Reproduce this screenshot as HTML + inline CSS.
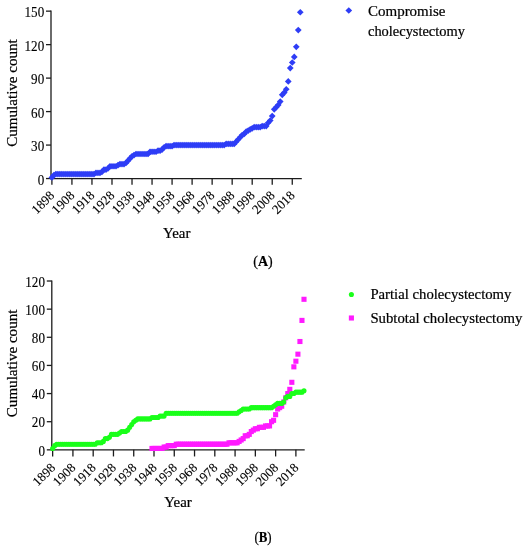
<!DOCTYPE html>
<html lang="en"><head><meta charset="utf-8"><title>Cumulative count</title>
<style>html,body{margin:0;padding:0;background:#fff}body{width:527px;height:550px;overflow:hidden}</style></head>
<body>
<svg width="527" height="550" viewBox="0 0 527 550" style="display:block" font-family='"Liberation Serif", "DejaVu Serif", serif' font-size="14" fill="#000">
<rect width="527" height="550" fill="#fff"/>
<g stroke="#1c1c1c" stroke-width="1.3" fill="none">
<path d="M51.0 10.55V179.15"/>
<path d="M50.40 178.55H301.8"/>
<path d="M46.0 178.55H51.0"/>
<path d="M46.0 145.07H51.0"/>
<path d="M46.0 111.59H51.0"/>
<path d="M46.0 78.11H51.0"/>
<path d="M46.0 44.63H51.0"/>
<path d="M46.0 11.15H51.0"/>
<path d="M51.90 178.55V184.75"/>
<path d="M71.93 178.55V184.75"/>
<path d="M91.96 178.55V184.75"/>
<path d="M111.99 178.55V184.75"/>
<path d="M132.02 178.55V184.75"/>
<path d="M152.05 178.55V184.75"/>
<path d="M172.08 178.55V184.75"/>
<path d="M192.11 178.55V184.75"/>
<path d="M212.14 178.55V184.75"/>
<path d="M232.17 178.55V184.75"/>
<path d="M252.20 178.55V184.75"/>
<path d="M272.23 178.55V184.75"/>
<path d="M292.26 178.55V184.75"/>
</g>
<g stroke="#000" stroke-width="0.12">
<text text-anchor="end" textLength="6.55" lengthAdjust="spacingAndGlyphs" x="44.2" y="184.50">0</text>
<text text-anchor="end" textLength="13.10" lengthAdjust="spacingAndGlyphs" x="44.2" y="151.02">30</text>
<text text-anchor="end" textLength="13.10" lengthAdjust="spacingAndGlyphs" x="44.2" y="117.54">60</text>
<text text-anchor="end" textLength="13.10" lengthAdjust="spacingAndGlyphs" x="44.2" y="84.06">90</text>
<text text-anchor="end" textLength="19.65" lengthAdjust="spacingAndGlyphs" x="44.2" y="50.58">120</text>
<text text-anchor="end" textLength="19.65" lengthAdjust="spacingAndGlyphs" x="44.2" y="17.10">150</text>
<text text-anchor="end" font-size="13" transform="translate(55.20 196.25) rotate(-45)">1898</text>
<text text-anchor="end" font-size="13" transform="translate(75.23 196.25) rotate(-45)">1908</text>
<text text-anchor="end" font-size="13" transform="translate(95.26 196.25) rotate(-45)">1918</text>
<text text-anchor="end" font-size="13" transform="translate(115.29 196.25) rotate(-45)">1928</text>
<text text-anchor="end" font-size="13" transform="translate(135.32 196.25) rotate(-45)">1938</text>
<text text-anchor="end" font-size="13" transform="translate(155.35 196.25) rotate(-45)">1948</text>
<text text-anchor="end" font-size="13" transform="translate(175.38 196.25) rotate(-45)">1958</text>
<text text-anchor="end" font-size="13" transform="translate(195.41 196.25) rotate(-45)">1968</text>
<text text-anchor="end" font-size="13" transform="translate(215.44 196.25) rotate(-45)">1978</text>
<text text-anchor="end" font-size="13" transform="translate(235.47 196.25) rotate(-45)">1988</text>
<text text-anchor="end" font-size="13" transform="translate(255.50 196.25) rotate(-45)">1998</text>
<text text-anchor="end" font-size="13" transform="translate(275.53 196.25) rotate(-45)">2008</text>
<text text-anchor="end" font-size="13" transform="translate(295.56 196.25) rotate(-45)">2018</text>
</g>
<g stroke="#000" stroke-width="0.2">
<text text-anchor="middle" textLength="107.61" lengthAdjust="spacingAndGlyphs" transform="translate(17.1 93) rotate(-90)">Cumulative count</text>
<text text-anchor="middle" textLength="27.45" lengthAdjust="spacingAndGlyphs" x="176.7" y="237.5">Year</text>
<text text-anchor="middle" textLength="19.42" lengthAdjust="spacingAndGlyphs" x="263" y="265.6">(<tspan font-weight="bold">A</tspan>)</text>
<text text-anchor="start" textLength="77.43" lengthAdjust="spacingAndGlyphs" x="368" y="16.0">Compromise</text>
<text text-anchor="start" textLength="96.93" lengthAdjust="spacingAndGlyphs" x="368" y="36.4">cholecystectomy</text>
</g>
<g fill="#2e3df6">
<path d="M51.90 174.08L55.25 177.43L51.90 180.78L48.55 177.43Z"/>
<path d="M53.90 171.85L57.25 175.20L53.90 178.55L50.55 175.20Z"/>
<path d="M55.91 170.74L59.26 174.09L55.91 177.44L52.56 174.09Z"/>
<path d="M57.91 170.74L61.26 174.09L57.91 177.44L54.56 174.09Z"/>
<path d="M59.91 170.74L63.26 174.09L59.91 177.44L56.56 174.09Z"/>
<path d="M61.91 170.74L65.27 174.09L61.91 177.44L58.56 174.09Z"/>
<path d="M63.92 170.74L67.27 174.09L63.92 177.44L60.57 174.09Z"/>
<path d="M65.92 170.74L69.27 174.09L65.92 177.44L62.57 174.09Z"/>
<path d="M67.92 170.74L71.27 174.09L67.92 177.44L64.57 174.09Z"/>
<path d="M69.93 170.74L73.28 174.09L69.93 177.44L66.58 174.09Z"/>
<path d="M71.93 170.74L75.28 174.09L71.93 177.44L68.58 174.09Z"/>
<path d="M73.93 170.74L77.28 174.09L73.93 177.44L70.58 174.09Z"/>
<path d="M75.94 170.74L79.29 174.09L75.94 177.44L72.59 174.09Z"/>
<path d="M77.94 170.74L81.29 174.09L77.94 177.44L74.59 174.09Z"/>
<path d="M79.94 170.74L83.29 174.09L79.94 177.44L76.59 174.09Z"/>
<path d="M81.94 170.74L85.29 174.09L81.94 177.44L78.59 174.09Z"/>
<path d="M83.95 170.74L87.30 174.09L83.95 177.44L80.60 174.09Z"/>
<path d="M85.95 170.74L89.30 174.09L85.95 177.44L82.60 174.09Z"/>
<path d="M87.95 170.74L91.30 174.09L87.95 177.44L84.60 174.09Z"/>
<path d="M89.96 170.74L93.31 174.09L89.96 177.44L86.61 174.09Z"/>
<path d="M91.96 170.74L95.31 174.09L91.96 177.44L88.61 174.09Z"/>
<path d="M93.96 170.74L97.31 174.09L93.96 177.44L90.61 174.09Z"/>
<path d="M95.97 169.62L99.32 172.97L95.97 176.32L92.62 172.97Z"/>
<path d="M97.97 169.62L101.32 172.97L97.97 176.32L94.62 172.97Z"/>
<path d="M99.97 169.62L103.32 172.97L99.97 176.32L96.62 172.97Z"/>
<path d="M101.97 168.50L105.32 171.85L101.97 175.20L98.62 171.85Z"/>
<path d="M103.98 166.27L107.33 169.62L103.98 172.97L100.63 169.62Z"/>
<path d="M105.98 166.27L109.33 169.62L105.98 172.97L102.63 169.62Z"/>
<path d="M107.98 165.16L111.33 168.51L107.98 171.86L104.63 168.51Z"/>
<path d="M109.99 162.92L113.34 166.27L109.99 169.62L106.64 166.27Z"/>
<path d="M111.99 162.92L115.34 166.27L111.99 169.62L108.64 166.27Z"/>
<path d="M113.99 162.92L117.34 166.27L113.99 169.62L110.64 166.27Z"/>
<path d="M116.00 162.92L119.35 166.27L116.00 169.62L112.65 166.27Z"/>
<path d="M118.00 161.81L121.35 165.16L118.00 168.51L114.65 165.16Z"/>
<path d="M120.00 160.69L123.35 164.04L120.00 167.39L116.65 164.04Z"/>
<path d="M122.00 160.69L125.35 164.04L122.00 167.39L118.66 164.04Z"/>
<path d="M124.01 160.69L127.36 164.04L124.01 167.39L120.66 164.04Z"/>
<path d="M126.01 159.58L129.36 162.93L126.01 166.28L122.66 162.93Z"/>
<path d="M128.01 157.34L131.36 160.69L128.01 164.04L124.66 160.69Z"/>
<path d="M130.02 155.11L133.37 158.46L130.02 161.81L126.67 158.46Z"/>
<path d="M132.02 152.88L135.37 156.23L132.02 159.58L128.67 156.23Z"/>
<path d="M134.02 151.76L137.37 155.11L134.02 158.46L130.67 155.11Z"/>
<path d="M136.03 150.65L139.38 154.00L136.03 157.35L132.68 154.00Z"/>
<path d="M138.03 150.65L141.38 154.00L138.03 157.35L134.68 154.00Z"/>
<path d="M140.03 150.65L143.38 154.00L140.03 157.35L136.68 154.00Z"/>
<path d="M142.03 150.65L145.38 154.00L142.03 157.35L138.69 154.00Z"/>
<path d="M144.04 150.65L147.39 154.00L144.04 157.35L140.69 154.00Z"/>
<path d="M146.04 150.65L149.39 154.00L146.04 157.35L142.69 154.00Z"/>
<path d="M148.04 150.65L151.39 154.00L148.04 157.35L144.69 154.00Z"/>
<path d="M150.05 148.42L153.40 151.77L150.05 155.12L146.70 151.77Z"/>
<path d="M152.05 148.42L155.40 151.77L152.05 155.12L148.70 151.77Z"/>
<path d="M154.05 148.42L157.40 151.77L154.05 155.12L150.70 151.77Z"/>
<path d="M156.06 148.42L159.41 151.77L156.06 155.12L152.71 151.77Z"/>
<path d="M158.06 147.30L161.41 150.65L158.06 154.00L154.71 150.65Z"/>
<path d="M160.06 147.30L163.41 150.65L160.06 154.00L156.71 150.65Z"/>
<path d="M162.06 146.18L165.41 149.53L162.06 152.88L158.72 149.53Z"/>
<path d="M164.07 143.95L167.42 147.30L164.07 150.65L160.72 147.30Z"/>
<path d="M166.07 142.84L169.42 146.19L166.07 149.54L162.72 146.19Z"/>
<path d="M168.07 142.84L171.42 146.19L168.07 149.54L164.72 146.19Z"/>
<path d="M170.08 142.84L173.43 146.19L170.08 149.54L166.73 146.19Z"/>
<path d="M172.08 142.84L175.43 146.19L172.08 149.54L168.73 146.19Z"/>
<path d="M174.08 141.72L177.43 145.07L174.08 148.42L170.73 145.07Z"/>
<path d="M176.09 141.72L179.44 145.07L176.09 148.42L172.74 145.07Z"/>
<path d="M178.09 141.72L181.44 145.07L178.09 148.42L174.74 145.07Z"/>
<path d="M180.09 141.72L183.44 145.07L180.09 148.42L176.74 145.07Z"/>
<path d="M182.09 141.72L185.44 145.07L182.09 148.42L178.75 145.07Z"/>
<path d="M184.10 141.72L187.45 145.07L184.10 148.42L180.75 145.07Z"/>
<path d="M186.10 141.72L189.45 145.07L186.10 148.42L182.75 145.07Z"/>
<path d="M188.10 141.72L191.45 145.07L188.10 148.42L184.75 145.07Z"/>
<path d="M190.11 141.72L193.46 145.07L190.11 148.42L186.76 145.07Z"/>
<path d="M192.11 141.72L195.46 145.07L192.11 148.42L188.76 145.07Z"/>
<path d="M194.11 141.72L197.46 145.07L194.11 148.42L190.76 145.07Z"/>
<path d="M196.12 141.72L199.47 145.07L196.12 148.42L192.77 145.07Z"/>
<path d="M198.12 141.72L201.47 145.07L198.12 148.42L194.77 145.07Z"/>
<path d="M200.12 141.72L203.47 145.07L200.12 148.42L196.77 145.07Z"/>
<path d="M202.13 141.72L205.48 145.07L202.13 148.42L198.78 145.07Z"/>
<path d="M204.13 141.72L207.48 145.07L204.13 148.42L200.78 145.07Z"/>
<path d="M206.13 141.72L209.48 145.07L206.13 148.42L202.78 145.07Z"/>
<path d="M208.13 141.72L211.48 145.07L208.13 148.42L204.78 145.07Z"/>
<path d="M210.14 141.72L213.49 145.07L210.14 148.42L206.79 145.07Z"/>
<path d="M212.14 141.72L215.49 145.07L212.14 148.42L208.79 145.07Z"/>
<path d="M214.14 141.72L217.49 145.07L214.14 148.42L210.79 145.07Z"/>
<path d="M216.15 141.72L219.50 145.07L216.15 148.42L212.80 145.07Z"/>
<path d="M218.15 141.72L221.50 145.07L218.15 148.42L214.80 145.07Z"/>
<path d="M220.15 141.72L223.50 145.07L220.15 148.42L216.80 145.07Z"/>
<path d="M222.16 141.72L225.50 145.07L222.16 148.42L218.81 145.07Z"/>
<path d="M224.16 141.72L227.51 145.07L224.16 148.42L220.81 145.07Z"/>
<path d="M226.16 140.60L229.51 143.95L226.16 147.30L222.81 143.95Z"/>
<path d="M228.16 140.60L231.51 143.95L228.16 147.30L224.81 143.95Z"/>
<path d="M230.17 140.60L233.52 143.95L230.17 147.30L226.82 143.95Z"/>
<path d="M232.17 140.60L235.52 143.95L232.17 147.30L228.82 143.95Z"/>
<path d="M234.17 140.60L237.52 143.95L234.17 147.30L230.82 143.95Z"/>
<path d="M236.18 138.37L239.53 141.72L236.18 145.07L232.83 141.72Z"/>
<path d="M238.18 136.14L241.53 139.49L238.18 142.84L234.83 139.49Z"/>
<path d="M240.18 133.91L243.53 137.26L240.18 140.61L236.83 137.26Z"/>
<path d="M242.19 131.68L245.54 135.03L242.19 138.38L238.84 135.03Z"/>
<path d="M244.19 130.56L247.54 133.91L244.19 137.26L240.84 133.91Z"/>
<path d="M246.19 128.33L249.54 131.68L246.19 135.03L242.84 131.68Z"/>
<path d="M248.19 127.21L251.54 130.56L248.19 133.91L244.84 130.56Z"/>
<path d="M250.20 126.10L253.55 129.45L250.20 132.80L246.85 129.45Z"/>
<path d="M252.20 124.98L255.55 128.33L252.20 131.68L248.85 128.33Z"/>
<path d="M254.20 123.86L257.55 127.21L254.20 130.56L250.85 127.21Z"/>
<path d="M256.21 123.86L259.56 127.21L256.21 130.56L252.86 127.21Z"/>
<path d="M258.21 123.86L261.56 127.21L258.21 130.56L254.86 127.21Z"/>
<path d="M260.21 123.86L263.56 127.21L260.21 130.56L256.86 127.21Z"/>
<path d="M262.21 122.75L265.56 126.10L262.21 129.45L258.86 126.10Z"/>
<path d="M264.22 122.75L267.57 126.10L264.22 129.45L260.87 126.10Z"/>
<path d="M266.22 122.75L269.57 126.10L266.22 129.45L262.87 126.10Z"/>
<path d="M268.22 119.40L271.57 122.75L268.22 126.10L264.87 122.75Z"/>
<path d="M270.23 117.17L273.58 120.52L270.23 123.87L266.88 120.52Z"/>
<path d="M272.23 112.70L275.58 116.05L272.23 119.40L268.88 116.05Z"/>
<path d="M274.23 106.01L277.58 109.36L274.23 112.71L270.88 109.36Z"/>
<path d="M276.24 103.78L279.59 107.13L276.24 110.48L272.89 107.13Z"/>
<path d="M278.24 101.54L281.59 104.89L278.24 108.24L274.89 104.89Z"/>
<path d="M280.24 98.20L283.59 101.55L280.24 104.90L276.89 101.55Z"/>
<path d="M282.25 91.50L285.60 94.85L282.25 98.20L278.89 94.85Z"/>
<path d="M284.25 89.27L287.60 92.62L284.25 95.97L280.90 92.62Z"/>
<path d="M286.25 85.92L289.60 89.27L286.25 92.62L282.90 89.27Z"/>
<path d="M288.25 78.11L291.60 81.46L288.25 84.81L284.90 81.46Z"/>
<path d="M290.26 64.72L293.61 68.07L290.26 71.42L286.91 68.07Z"/>
<path d="M292.26 59.14L295.61 62.49L292.26 65.84L288.91 62.49Z"/>
<path d="M294.26 53.56L297.61 56.91L294.26 60.26L290.91 56.91Z"/>
<path d="M296.27 43.51L299.62 46.86L296.27 50.21L292.92 46.86Z"/>
<path d="M298.27 26.77L301.62 30.12L298.27 33.47L294.92 30.12Z"/>
<path d="M300.27 8.92L303.62 12.27L300.27 15.62L296.92 12.27Z"/>
<path d="M348.80 7.15L352.15 10.50L348.80 13.85L345.45 10.50Z"/>
</g>
<g stroke="#1c1c1c" stroke-width="1.3" fill="none">
<path d="M51.8 280.41V450.45"/>
<path d="M51.20 449.85H304.7"/>
<path d="M46.8 449.85H51.8"/>
<path d="M46.8 421.71H51.8"/>
<path d="M46.8 393.57H51.8"/>
<path d="M46.8 365.43H51.8"/>
<path d="M46.8 337.29H51.8"/>
<path d="M46.8 309.15H51.8"/>
<path d="M46.8 281.01H51.8"/>
<path d="M52.65 449.85V456.45000000000005"/>
<path d="M72.92 449.85V456.45000000000005"/>
<path d="M93.19 449.85V456.45000000000005"/>
<path d="M113.46 449.85V456.45000000000005"/>
<path d="M133.73 449.85V456.45000000000005"/>
<path d="M154.00 449.85V456.45000000000005"/>
<path d="M174.27 449.85V456.45000000000005"/>
<path d="M194.54 449.85V456.45000000000005"/>
<path d="M214.81 449.85V456.45000000000005"/>
<path d="M235.08 449.85V456.45000000000005"/>
<path d="M255.35 449.85V456.45000000000005"/>
<path d="M275.62 449.85V456.45000000000005"/>
<path d="M295.89 449.85V456.45000000000005"/>
</g>
<g stroke="#000" stroke-width="0.12">
<text text-anchor="end" textLength="6.55" lengthAdjust="spacingAndGlyphs" x="44.95" y="455.50">0</text>
<text text-anchor="end" textLength="13.10" lengthAdjust="spacingAndGlyphs" x="44.95" y="427.36">20</text>
<text text-anchor="end" textLength="13.10" lengthAdjust="spacingAndGlyphs" x="44.95" y="399.22">40</text>
<text text-anchor="end" textLength="13.10" lengthAdjust="spacingAndGlyphs" x="44.95" y="371.08">60</text>
<text text-anchor="end" textLength="13.10" lengthAdjust="spacingAndGlyphs" x="44.95" y="342.94">80</text>
<text text-anchor="end" textLength="19.65" lengthAdjust="spacingAndGlyphs" x="44.95" y="314.80">100</text>
<text text-anchor="end" textLength="19.65" lengthAdjust="spacingAndGlyphs" x="44.95" y="286.66">120</text>
<text text-anchor="end" font-size="13" transform="translate(56.15 468.45) rotate(-45)">1898</text>
<text text-anchor="end" font-size="13" transform="translate(76.42 468.45) rotate(-45)">1908</text>
<text text-anchor="end" font-size="13" transform="translate(96.69 468.45) rotate(-45)">1918</text>
<text text-anchor="end" font-size="13" transform="translate(116.96 468.45) rotate(-45)">1928</text>
<text text-anchor="end" font-size="13" transform="translate(137.23 468.45) rotate(-45)">1938</text>
<text text-anchor="end" font-size="13" transform="translate(157.50 468.45) rotate(-45)">1948</text>
<text text-anchor="end" font-size="13" transform="translate(177.77 468.45) rotate(-45)">1958</text>
<text text-anchor="end" font-size="13" transform="translate(198.04 468.45) rotate(-45)">1968</text>
<text text-anchor="end" font-size="13" transform="translate(218.31 468.45) rotate(-45)">1978</text>
<text text-anchor="end" font-size="13" transform="translate(238.58 468.45) rotate(-45)">1988</text>
<text text-anchor="end" font-size="13" transform="translate(258.85 468.45) rotate(-45)">1998</text>
<text text-anchor="end" font-size="13" transform="translate(279.12 468.45) rotate(-45)">2008</text>
<text text-anchor="end" font-size="13" transform="translate(299.39 468.45) rotate(-45)">2018</text>
</g>
<g stroke="#000" stroke-width="0.2">
<text text-anchor="middle" textLength="107.61" lengthAdjust="spacingAndGlyphs" transform="translate(17.1 363.4) rotate(-90)">Cumulative count</text>
<text text-anchor="middle" textLength="27.45" lengthAdjust="spacingAndGlyphs" x="178" y="506.5">Year</text>
<text text-anchor="middle" textLength="17.18" lengthAdjust="spacingAndGlyphs" x="263" y="542">(<tspan font-weight="bold">B</tspan>)</text>
<text text-anchor="start" textLength="141.00" lengthAdjust="spacingAndGlyphs" x="370.4" y="299.3">Partial cholecystectomy</text>
<text text-anchor="start" textLength="152.06" lengthAdjust="spacingAndGlyphs" x="370.4" y="323.0">Subtotal cholecystectomy</text>
</g>
<g fill="#ff1aff">
<rect x="149.42" y="445.89" width="5.1" height="5.1"/>
<rect x="151.45" y="445.89" width="5.1" height="5.1"/>
<rect x="153.48" y="445.89" width="5.1" height="5.1"/>
<rect x="155.50" y="445.89" width="5.1" height="5.1"/>
<rect x="157.53" y="445.89" width="5.1" height="5.1"/>
<rect x="159.56" y="445.89" width="5.1" height="5.1"/>
<rect x="161.59" y="444.49" width="5.1" height="5.1"/>
<rect x="163.61" y="444.49" width="5.1" height="5.1"/>
<rect x="165.64" y="443.08" width="5.1" height="5.1"/>
<rect x="167.67" y="443.08" width="5.1" height="5.1"/>
<rect x="169.69" y="443.08" width="5.1" height="5.1"/>
<rect x="171.72" y="443.08" width="5.1" height="5.1"/>
<rect x="173.75" y="441.67" width="5.1" height="5.1"/>
<rect x="175.77" y="441.67" width="5.1" height="5.1"/>
<rect x="177.80" y="441.67" width="5.1" height="5.1"/>
<rect x="179.83" y="441.67" width="5.1" height="5.1"/>
<rect x="181.85" y="441.67" width="5.1" height="5.1"/>
<rect x="183.88" y="441.67" width="5.1" height="5.1"/>
<rect x="185.91" y="441.67" width="5.1" height="5.1"/>
<rect x="187.94" y="441.67" width="5.1" height="5.1"/>
<rect x="189.96" y="441.67" width="5.1" height="5.1"/>
<rect x="191.99" y="441.67" width="5.1" height="5.1"/>
<rect x="194.02" y="441.67" width="5.1" height="5.1"/>
<rect x="196.04" y="441.67" width="5.1" height="5.1"/>
<rect x="198.07" y="441.67" width="5.1" height="5.1"/>
<rect x="200.10" y="441.67" width="5.1" height="5.1"/>
<rect x="202.12" y="441.67" width="5.1" height="5.1"/>
<rect x="204.15" y="441.67" width="5.1" height="5.1"/>
<rect x="206.18" y="441.67" width="5.1" height="5.1"/>
<rect x="208.21" y="441.67" width="5.1" height="5.1"/>
<rect x="210.23" y="441.67" width="5.1" height="5.1"/>
<rect x="212.26" y="441.67" width="5.1" height="5.1"/>
<rect x="214.29" y="441.67" width="5.1" height="5.1"/>
<rect x="216.31" y="441.67" width="5.1" height="5.1"/>
<rect x="218.34" y="441.67" width="5.1" height="5.1"/>
<rect x="220.37" y="441.67" width="5.1" height="5.1"/>
<rect x="222.40" y="441.67" width="5.1" height="5.1"/>
<rect x="224.42" y="441.67" width="5.1" height="5.1"/>
<rect x="226.45" y="440.26" width="5.1" height="5.1"/>
<rect x="228.48" y="440.26" width="5.1" height="5.1"/>
<rect x="230.50" y="440.26" width="5.1" height="5.1"/>
<rect x="232.53" y="440.26" width="5.1" height="5.1"/>
<rect x="234.56" y="440.26" width="5.1" height="5.1"/>
<rect x="236.58" y="438.86" width="5.1" height="5.1"/>
<rect x="238.61" y="437.45" width="5.1" height="5.1"/>
<rect x="240.64" y="436.04" width="5.1" height="5.1"/>
<rect x="242.67" y="433.23" width="5.1" height="5.1"/>
<rect x="244.69" y="433.23" width="5.1" height="5.1"/>
<rect x="246.72" y="431.82" width="5.1" height="5.1"/>
<rect x="248.75" y="429.01" width="5.1" height="5.1"/>
<rect x="250.77" y="427.60" width="5.1" height="5.1"/>
<rect x="252.80" y="426.19" width="5.1" height="5.1"/>
<rect x="254.83" y="426.19" width="5.1" height="5.1"/>
<rect x="256.85" y="424.79" width="5.1" height="5.1"/>
<rect x="258.88" y="424.79" width="5.1" height="5.1"/>
<rect x="260.91" y="424.79" width="5.1" height="5.1"/>
<rect x="262.94" y="423.38" width="5.1" height="5.1"/>
<rect x="264.96" y="423.38" width="5.1" height="5.1"/>
<rect x="266.99" y="423.38" width="5.1" height="5.1"/>
<rect x="269.02" y="419.16" width="5.1" height="5.1"/>
<rect x="271.04" y="417.75" width="5.1" height="5.1"/>
<rect x="273.07" y="412.12" width="5.1" height="5.1"/>
<rect x="275.10" y="406.50" width="5.1" height="5.1"/>
<rect x="277.12" y="405.09" width="5.1" height="5.1"/>
<rect x="279.15" y="403.68" width="5.1" height="5.1"/>
<rect x="281.18" y="399.46" width="5.1" height="5.1"/>
<rect x="283.20" y="395.24" width="5.1" height="5.1"/>
<rect x="285.23" y="391.02" width="5.1" height="5.1"/>
<rect x="287.26" y="386.80" width="5.1" height="5.1"/>
<rect x="289.29" y="379.76" width="5.1" height="5.1"/>
<rect x="291.31" y="364.29" width="5.1" height="5.1"/>
<rect x="293.34" y="358.66" width="5.1" height="5.1"/>
<rect x="295.37" y="351.62" width="5.1" height="5.1"/>
<rect x="297.39" y="338.96" width="5.1" height="5.1"/>
<rect x="299.42" y="317.86" width="5.1" height="5.1"/>
<rect x="301.45" y="296.75" width="5.1" height="5.1"/>
<rect x="348.85" y="315.45" width="5.1" height="5.1"/>
</g>
<g fill="#1aff1a">
<circle cx="52.65" cy="448.44" r="2.55"/>
<circle cx="54.68" cy="445.63" r="2.55"/>
<circle cx="56.70" cy="444.22" r="2.55"/>
<circle cx="58.73" cy="444.22" r="2.55"/>
<circle cx="60.76" cy="444.22" r="2.55"/>
<circle cx="62.78" cy="444.22" r="2.55"/>
<circle cx="64.81" cy="444.22" r="2.55"/>
<circle cx="66.84" cy="444.22" r="2.55"/>
<circle cx="68.87" cy="444.22" r="2.55"/>
<circle cx="70.89" cy="444.22" r="2.55"/>
<circle cx="72.92" cy="444.22" r="2.55"/>
<circle cx="74.95" cy="444.22" r="2.55"/>
<circle cx="76.97" cy="444.22" r="2.55"/>
<circle cx="79.00" cy="444.22" r="2.55"/>
<circle cx="81.03" cy="444.22" r="2.55"/>
<circle cx="83.06" cy="444.22" r="2.55"/>
<circle cx="85.08" cy="444.22" r="2.55"/>
<circle cx="87.11" cy="444.22" r="2.55"/>
<circle cx="89.14" cy="444.22" r="2.55"/>
<circle cx="91.16" cy="444.22" r="2.55"/>
<circle cx="93.19" cy="444.22" r="2.55"/>
<circle cx="95.22" cy="444.22" r="2.55"/>
<circle cx="97.24" cy="442.81" r="2.55"/>
<circle cx="99.27" cy="442.81" r="2.55"/>
<circle cx="101.30" cy="442.81" r="2.55"/>
<circle cx="103.33" cy="441.41" r="2.55"/>
<circle cx="105.35" cy="438.59" r="2.55"/>
<circle cx="107.38" cy="438.59" r="2.55"/>
<circle cx="109.41" cy="437.19" r="2.55"/>
<circle cx="111.43" cy="434.37" r="2.55"/>
<circle cx="113.46" cy="434.37" r="2.55"/>
<circle cx="115.49" cy="434.37" r="2.55"/>
<circle cx="117.51" cy="434.37" r="2.55"/>
<circle cx="119.54" cy="432.97" r="2.55"/>
<circle cx="121.57" cy="431.56" r="2.55"/>
<circle cx="123.59" cy="431.56" r="2.55"/>
<circle cx="125.62" cy="431.56" r="2.55"/>
<circle cx="127.65" cy="430.15" r="2.55"/>
<circle cx="129.68" cy="427.34" r="2.55"/>
<circle cx="131.70" cy="424.52" r="2.55"/>
<circle cx="133.73" cy="421.71" r="2.55"/>
<circle cx="135.76" cy="420.30" r="2.55"/>
<circle cx="137.78" cy="418.90" r="2.55"/>
<circle cx="139.81" cy="418.90" r="2.55"/>
<circle cx="141.84" cy="418.90" r="2.55"/>
<circle cx="143.87" cy="418.90" r="2.55"/>
<circle cx="145.89" cy="418.90" r="2.55"/>
<circle cx="147.92" cy="418.90" r="2.55"/>
<circle cx="149.95" cy="418.90" r="2.55"/>
<circle cx="151.97" cy="417.49" r="2.55"/>
<circle cx="154.00" cy="417.49" r="2.55"/>
<circle cx="156.03" cy="417.49" r="2.55"/>
<circle cx="158.05" cy="417.49" r="2.55"/>
<circle cx="160.08" cy="416.08" r="2.55"/>
<circle cx="162.11" cy="416.08" r="2.55"/>
<circle cx="164.14" cy="416.08" r="2.55"/>
<circle cx="166.16" cy="413.27" r="2.55"/>
<circle cx="168.19" cy="413.27" r="2.55"/>
<circle cx="170.22" cy="413.27" r="2.55"/>
<circle cx="172.24" cy="413.27" r="2.55"/>
<circle cx="174.27" cy="413.27" r="2.55"/>
<circle cx="176.30" cy="413.27" r="2.55"/>
<circle cx="178.32" cy="413.27" r="2.55"/>
<circle cx="180.35" cy="413.27" r="2.55"/>
<circle cx="182.38" cy="413.27" r="2.55"/>
<circle cx="184.41" cy="413.27" r="2.55"/>
<circle cx="186.43" cy="413.27" r="2.55"/>
<circle cx="188.46" cy="413.27" r="2.55"/>
<circle cx="190.49" cy="413.27" r="2.55"/>
<circle cx="192.51" cy="413.27" r="2.55"/>
<circle cx="194.54" cy="413.27" r="2.55"/>
<circle cx="196.57" cy="413.27" r="2.55"/>
<circle cx="198.59" cy="413.27" r="2.55"/>
<circle cx="200.62" cy="413.27" r="2.55"/>
<circle cx="202.65" cy="413.27" r="2.55"/>
<circle cx="204.68" cy="413.27" r="2.55"/>
<circle cx="206.70" cy="413.27" r="2.55"/>
<circle cx="208.73" cy="413.27" r="2.55"/>
<circle cx="210.76" cy="413.27" r="2.55"/>
<circle cx="212.78" cy="413.27" r="2.55"/>
<circle cx="214.81" cy="413.27" r="2.55"/>
<circle cx="216.84" cy="413.27" r="2.55"/>
<circle cx="218.86" cy="413.27" r="2.55"/>
<circle cx="220.89" cy="413.27" r="2.55"/>
<circle cx="222.92" cy="413.27" r="2.55"/>
<circle cx="224.95" cy="413.27" r="2.55"/>
<circle cx="226.97" cy="413.27" r="2.55"/>
<circle cx="229.00" cy="413.27" r="2.55"/>
<circle cx="231.03" cy="413.27" r="2.55"/>
<circle cx="233.05" cy="413.27" r="2.55"/>
<circle cx="235.08" cy="413.27" r="2.55"/>
<circle cx="237.11" cy="413.27" r="2.55"/>
<circle cx="239.13" cy="411.86" r="2.55"/>
<circle cx="241.16" cy="410.45" r="2.55"/>
<circle cx="243.19" cy="409.05" r="2.55"/>
<circle cx="245.22" cy="409.05" r="2.55"/>
<circle cx="247.24" cy="409.05" r="2.55"/>
<circle cx="249.27" cy="409.05" r="2.55"/>
<circle cx="251.30" cy="407.64" r="2.55"/>
<circle cx="253.32" cy="407.64" r="2.55"/>
<circle cx="255.35" cy="407.64" r="2.55"/>
<circle cx="257.38" cy="407.64" r="2.55"/>
<circle cx="259.40" cy="407.64" r="2.55"/>
<circle cx="261.43" cy="407.64" r="2.55"/>
<circle cx="263.46" cy="407.64" r="2.55"/>
<circle cx="265.49" cy="407.64" r="2.55"/>
<circle cx="267.51" cy="407.64" r="2.55"/>
<circle cx="269.54" cy="407.64" r="2.55"/>
<circle cx="271.57" cy="407.64" r="2.55"/>
<circle cx="273.59" cy="406.23" r="2.55"/>
<circle cx="275.62" cy="404.83" r="2.55"/>
<circle cx="277.65" cy="403.42" r="2.55"/>
<circle cx="279.67" cy="403.42" r="2.55"/>
<circle cx="281.70" cy="403.42" r="2.55"/>
<circle cx="283.73" cy="402.01" r="2.55"/>
<circle cx="285.75" cy="397.79" r="2.55"/>
<circle cx="287.78" cy="396.38" r="2.55"/>
<circle cx="289.81" cy="396.38" r="2.55"/>
<circle cx="291.84" cy="393.57" r="2.55"/>
<circle cx="293.86" cy="393.57" r="2.55"/>
<circle cx="295.89" cy="392.16" r="2.55"/>
<circle cx="297.92" cy="392.16" r="2.55"/>
<circle cx="299.94" cy="392.16" r="2.55"/>
<circle cx="301.97" cy="392.16" r="2.55"/>
<circle cx="304.00" cy="390.76" r="2.55"/>
<circle cx="351.4" cy="294.5" r="2.55"/>
</g>
</svg>
</body></html>
